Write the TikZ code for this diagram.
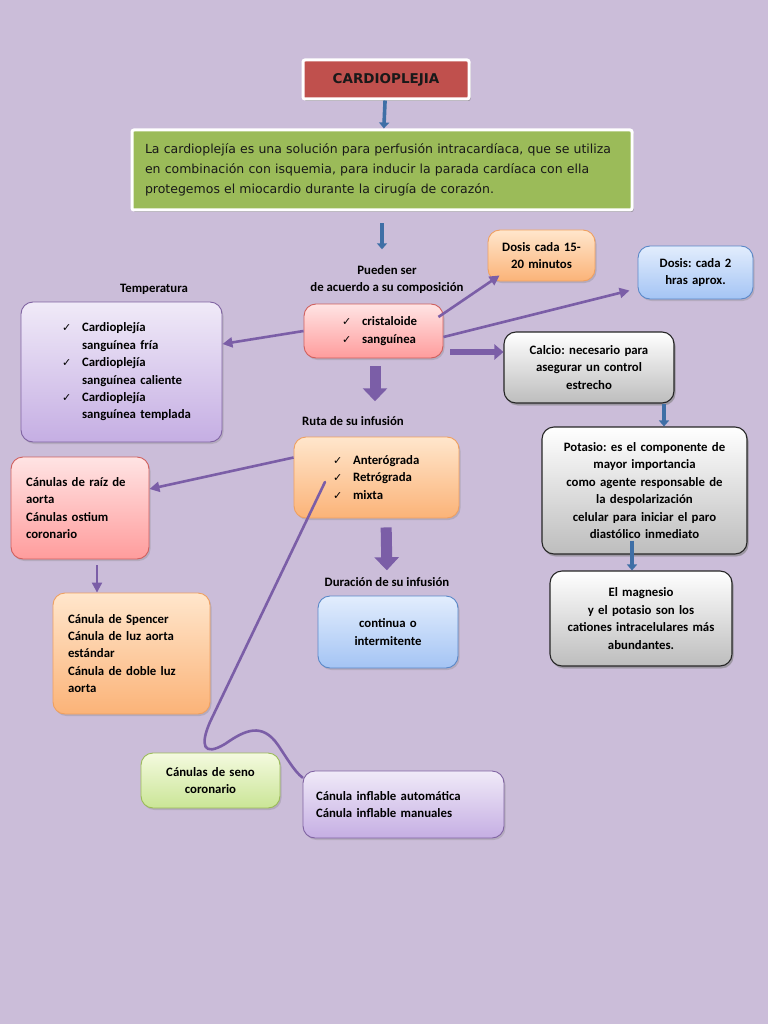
\documentclass[tikz,border=0pt]{standalone}
\usepackage{fontspec}
\setmainfont{Carlito}
\newfontfamily\comicfont{DejaVu Sans}
\usetikzlibrary{arrows.meta,shadows}
\frenchspacing
\definecolor{bglila}{HTML}{CBBDD9}
\definecolor{arrowlila}{HTML}{7B5EA7}
\definecolor{arrowblue}{HTML}{3F6FA6}
\definecolor{titlered}{HTML}{C0504D}
\definecolor{leafgreen}{HTML}{9BBB59}
\definecolor{pinktop}{HTML}{FFE4E4}
\definecolor{pinkbot}{HTML}{FF9C9C}
\definecolor{pinkline}{HTML}{D0605E}
\definecolor{orangetop}{HTML}{FFE6CC}
\definecolor{orangebot}{HTML}{FBB378}
\definecolor{orangeline}{HTML}{EFA060}
\definecolor{lilatop}{HTML}{F0EAF8}
\definecolor{lilabot}{HTML}{C5AEE3}
\definecolor{lilaline}{HTML}{8064A2}
\definecolor{bluetop}{HTML}{E2EDFD}
\definecolor{bluebot}{HTML}{A4C4F4}
\definecolor{blueline}{HTML}{5A88C8}
\definecolor{graybot}{HTML}{BDBDBD}
\definecolor{greentop}{HTML}{F4FADF}
\definecolor{greenbot}{HTML}{CAE596}
\newcommand{\chk}{\makebox[20pt][l]{\comicfont\fontsize{11}{11}\selectfont ✓}}
\newcommand{\gap}{\hspace*{20pt}}

\begin{document}
\begin{tikzpicture}[x=1pt, y=-1pt,
    box/.style={rounded corners=12pt, line width=0.9pt, inner xsep=0pt, inner ysep=0pt,
                align=center, font=\bfseries\fontsize{12.8}{17.4}\selectfont,
                drop shadow={shadow xshift=1.5pt, shadow yshift=-2pt, opacity=0.3}},
    size/.style 2 args={minimum width=#1pt, text width=#1pt, minimum height=#2pt},
    indent/.style={align=left, execute at begin node={\leftskip=#1pt\relax}},
    pinkbox/.style={box, draw=pinkline, top color=pinktop, bottom color=pinkbot},
    orangebox/.style={box, draw=orangeline, top color=orangetop, bottom color=orangebot},
    lilabox/.style={box, draw=lilaline, top color=lilatop, bottom color=lilabot},
    bluebox/.style={box, draw=blueline, top color=bluetop, bottom color=bluebot},
    graybox/.style={box, draw=black!85, line width=1.1pt, top color=white, bottom color=graybot,
                    drop shadow={shadow xshift=1.5pt, shadow yshift=-2.5pt, opacity=0.45}},
    greenbox/.style={box, draw=leafgreen, top color=greentop, bottom color=greenbot},
    plainbox/.style={box, rounded corners=2pt, draw=white, line width=3pt,
                     drop shadow={shadow xshift=1.5pt, shadow yshift=-2pt, opacity=0.45}},
    label/.style={font=\bfseries\fontsize{12.8}{17}\selectfont, align=center, inner sep=2pt},
    link/.style={-{Triangle[length=10pt, width=10pt]}, draw=arrowlila, line width=2.6pt},
    fatarrow/.style={-{Triangle[length=13pt, width=24pt]}, draw=arrowlila, line width=11pt},
    midarrow/.style={-{Triangle[length=9pt, width=15pt]}, draw=arrowlila, line width=5.5pt},
    bluearrow/.style={-{Triangle[length=6pt, width=10pt]}, draw=arrowblue, line width=3.6pt},
    curve/.style={draw=arrowlila, line width=2.6pt, line cap=round}
  ]
    % background fixes the page size (768 x 1024)
    \fill[bglila] (0,0) rectangle (768,1024);

    % title and definition
    \node[plainbox, fill=titlered, size={166}{39}, font=\comicfont\bfseries\fontsize{13.5}{14}\selectfont,
          text=black!90] (title) at (386,79.5) {CARDIOPLEJIA};
    \node[plainbox, fill=leafgreen, size={500}{80}, indent=13,
          font=\comicfont\fontsize{12.5}{20}\selectfont, text=black!90] (defin) at (382,170)
      {La cardioplejía es una solución para perfusión intracardíaca, que se utiliza\\
       en combinación con isquemia, para inducir la parada cardíaca con ella\\
       protegemos el miocardio durante la cirugía de corazón.};

    % labels
    \node[label] (pueden) at (387,279.5) {Pueden ser\\de acuerdo a su composición};
    \node[label] (templabel) at (154,289) {Temperatura};
    \node[label] (rutalabel) at (353,421) {Ruta de su infusión};
    \node[label] (durlabel)  at (387,582) {Duración de su infusión};

    % composition branch
    \node[pinkbox, size={139}{54}, indent=38] (comp) at (373.5,331)
      {\chk cristaloide\\\chk sanguínea};
    \node[lilabox, size={201}{140}, indent=41] (temp) at (121.5,372)
      {\chk Cardioplejía\\\gap sanguínea fría\\\chk Cardioplejía\\\gap sanguínea caliente\\
       \chk Cardioplejía\\\gap sanguínea templada};
    \node[orangebox, size={107}{51}] (dosisa) at (541.5,255.5) {Dosis cada 15-\\20 minutos};
    \node[bluebox, size={115}{53}] (dosisb) at (695.5,272.5) {Dosis: cada 2\\hras aprox.};
    \node[graybox, size={170}{71}] (calcio) at (589,367.5)
      {Calcio: necesario para\\asegurar un control\\estrecho};
    \node[graybox, size={205}{127}] (potasio) at (644.5,490.5)
      {Potasio: es el componente de\\mayor importancia\\como agente responsable de\\
       la despolarización\\celular para iniciar el paro\\diastólico inmediato};
    \node[graybox, size={182}{95}] (magnesio) at (641,618.5)
      {El magnesio\\y el potasio son los\\cationes intracelulares más\\abundantes.};

    % route branch
    \node[orangebox, size={165}{81}, indent=39] (ruta) at (376.5,477.5)
      {\chk Anterógrada\\\chk Retrógrada\\\chk mixta};
    \node[pinkbox, size={138}{102}, indent=15] (raiz) at (80,508)
      {Cánulas de raíz de\\aorta\\Cánulas ostium\\coronario};
    \node[orangebox, size={157}{121}, indent=15] (spencer) at (131.5,653.5)
      {Cánula de Spencer\\Cánula de luz aorta\\estándar\\Cánula de doble luz\\aorta};
    \node[bluebox, size={140}{72}] (continua) at (388,632) {continua o\\intermitente};
    \node[greenbox, size={139}{55}] (seno) at (210.5,780.5) {Cánulas de seno\\coronario};
    \node[lilabox, size={201}{67}, indent=13] (inflable) at (403.5,804.5)
      {Cánula inflable automática\\Cánula inflable manuales};

    % connectors
    \draw[bluearrow] (title) -- (defin);
    \draw[bluearrow, shorten <=12pt, shorten >=14pt] (defin.south) -- (pueden.north -| defin.south);
    \draw[link] (comp.west) -- ([yshift=28pt]temp.east);
    \draw[link] ([shift={(-5pt,14pt)}]comp.east) -- ([shift={(12pt,6pt)}]dosisa.south west);
    \draw[link] ([yshift=-6pt]comp.east) -- ([shift={(-8pt,-18pt)}]dosisb.west);
    \draw[midarrow] ([shift={(7pt,-21pt)}]comp.east) -- ([yshift=15.5pt]calcio.west);
    \draw[fatarrow, shorten <=8pt, shorten >=13pt] ([xshift=1.5pt]comp.south) -- ([xshift=22pt]rutalabel.north);
    \draw[bluearrow] ([xshift=75pt]calcio.south) -- ([xshift=19.5pt]potasio.north);
    \draw[bluearrow] ([shift={(-12.5pt,14pt)}]potasio.south) -- ([xshift=-9pt]magnesio.north);
    \draw[link] ([yshift=20pt]ruta.west) -- ([yshift=19pt]raiz.east);
    \draw[link, line width=2pt, shorten <=6pt] ([xshift=17pt]raiz.south) -- ([xshift=-34.5pt]spencer.north);
    \draw[fatarrow, shorten <=9pt, shorten >=5pt] ([xshift=9.5pt]ruta.south) -- (durlabel.north);
    \draw[curve] ([shift={(-51.5pt,-4.5pt)}]ruta.center) -- (210,722)
      .. controls (200,745) and (203,757) .. (225,744)
      .. controls (245,730) and (262,722) .. (278,745)
      .. controls (288,760) and (295,772) .. ([yshift=-7pt]inflable.north west);
\end{tikzpicture}
\end{document}
